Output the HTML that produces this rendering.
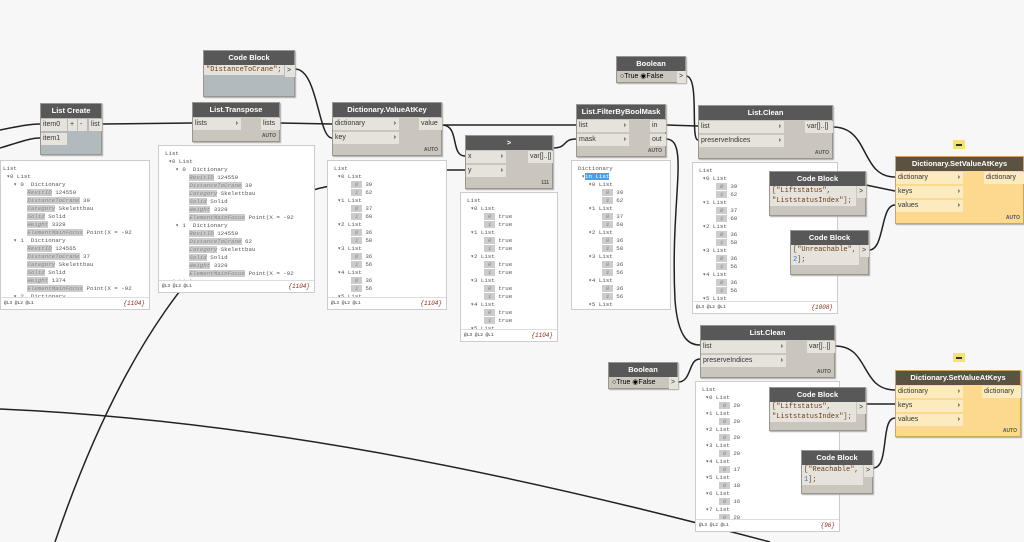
<!DOCTYPE html>
<html><head><meta charset="utf-8"><style>
*{box-sizing:border-box;margin:0;padding:0}
body{width:1024px;height:542px;background:#f7f7f7;position:relative;overflow:hidden;font-family:"Liberation Sans",sans-serif}
.n{position:absolute;background:#cbc6bd;border:1px solid #9a968f;box-shadow:1px 1px 1px #aaa}
.n.g{background:#b2babd}
.n.y{background:#fcd98e;border-color:#c9a760}
.h{background:#585858;color:#fff;font-weight:bold;font-size:7.5px;text-align:center;height:14px;line-height:14px;white-space:nowrap}
.n.y .h{background:#5c5242}
.p{position:absolute;font-size:7px;color:#333;background:#e6e3dc;height:12px;line-height:12px;padding-left:2px;white-space:nowrap}
.n.y .p{background:#fdebc0}
.a{position:absolute;font-size:5px;color:#555;font-weight:bold;right:3px;bottom:2px}
.cb{position:absolute;font-family:"Liberation Mono",monospace;font-size:7px;color:#6b3d17;background:#e6e3dc;line-height:10px;padding-left:2px;white-space:nowrap;overflow:hidden}
.pv{position:absolute;background:#fff;border:1px solid #ccc;font-family:"Liberation Mono",monospace;font-size:5.8px;color:#555;line-height:8px;overflow:hidden}
.pv .in{position:absolute;left:6px;top:4px;white-space:pre}
.pv .ft{position:absolute;left:0;right:0;bottom:0;height:12px;border-top:1px solid #ddd;background:#fff;font-size:4.5px;line-height:12px;padding-left:3px;color:#333}
.pv .ft i{position:absolute;right:4px;color:#8a2a1a;font-size:6px}
.k{background:#ccc;color:#888;font-style:italic}
.tag{position:absolute;width:12px;height:9px;background:#f6e07a}
.tag:after{content:"";position:absolute;left:3px;top:4px;width:6px;height:1.5px;background:#333}
svg{position:absolute;left:0;top:0}
</style></head><body>
<svg width="1024" height="542" fill="none" stroke="#222" stroke-width="1.5">
<path d="M0,409 C250,420 500,470 770,542"/>
<path d="M55,542 C110,380 200,210 330,186 L447,170 465,170"/>
<path d="M0,130 C20,126 30,124 40,124"/>
<path d="M0,148 C20,142 30,138 40,138"/>
<path d="M102,124 L192,123"/>
<path d="M280,123 L332,124"/>
<path d="M295,69 C318,69 318,138 332,138"/>
<path d="M442,125 L576,125"/>
<path d="M442,125 C460,125 450,156 465,156"/>
<path d="M553,148 C568,148 562,139 576,139"/>
<path d="M666,125 L698,126"/>
<path d="M666,139 C690,139 670,200 675,300 C678,340 690,345 700,345"/>
<path d="M686,76 C700,76 690,140 698,140"/>
<path d="M833,127 C870,127 860,177 895,177"/>
<path d="M866,185 L895,191"/>
<path d="M869,250 C885,250 880,205 895,205"/>
<path d="M835,346 C870,346 860,390 895,390"/>
<path d="M866,404 L895,404"/>
<path d="M873,468 C890,468 880,418 895,418"/>
<path d="M678,382 C692,382 688,359 700,359"/>
</svg>

<div class="pv" style="left:0;top:160px;width:150px;height:150px"><div class="in" style="left:2px">List
 ▾0 List
   ▾ 0  Dictionary
       <span class="k">RevitID</span> 124559
       <span class="k">DistanceToCrane</span> 39
       <span class="k">Category</span> Skelettbau
       <span class="k">Solid</span> Solid
       <span class="k">Weight</span> 3329
       <span class="k">ElementMainFocus</span> Point(X = -92
   ▾ 1  Dictionary
       <span class="k">RevitID</span> 124565
       <span class="k">DistanceToCrane</span> 37
       <span class="k">Category</span> Skelettbau
       <span class="k">Solid</span> Solid
       <span class="k">Weight</span> 1374
       <span class="k">ElementMainFocus</span> Point(X = -92
   ▾ 2  Dictionary</div><div class="ft">@L3 @L2 @L1<i>{1104}</i></div></div>
<div class="pv" style="left:158px;top:145px;width:157px;height:148px"><div class="in">List
 ▾0 List
   ▾ 0  Dictionary
       <span class="k">RevitID</span> 124559
       <span class="k">DistanceToCrane</span> 39
       <span class="k">Category</span> Skelettbau
       <span class="k">Solid</span> Solid
       <span class="k">Weight</span> 3329
       <span class="k">ElementMainFocus</span> Point(X = -92
   ▾ 1  Dictionary
       <span class="k">RevitID</span> 124559
       <span class="k">DistanceToCrane</span> 62
       <span class="k">Category</span> Skelettbau
       <span class="k">Solid</span> Solid
       <span class="k">Weight</span> 3329
       <span class="k">ElementMainFocus</span> Point(X = -92
 ▾1 List</div><div class="ft">@L3 @L2 @L1<i>{1104}</i></div></div>
<div class="pv" style="left:327px;top:160px;width:120px;height:150px"><div class="in">List
 ▾0 List
     <span class="k"> 0 </span> 39
     <span class="k"> 1 </span> 62
 ▾1 List
     <span class="k"> 0 </span> 37
     <span class="k"> 1 </span> 60
 ▾2 List
     <span class="k"> 0 </span> 36
     <span class="k"> 1 </span> 58
 ▾3 List
     <span class="k"> 0 </span> 36
     <span class="k"> 1 </span> 56
 ▾4 List
     <span class="k"> 0 </span> 36
     <span class="k"> 1 </span> 56
 ▾5 List</div><div class="ft">@L3 @L2 @L1<i>{1104}</i></div></div>
<div class="pv" style="left:460px;top:192px;width:98px;height:150px"><div class="in">List
 ▾0 List
     <span class="k"> 0 </span> true
     <span class="k"> 1 </span> true
 ▾1 List
     <span class="k"> 0 </span> true
     <span class="k"> 1 </span> true
 ▾2 List
     <span class="k"> 0 </span> true
     <span class="k"> 1 </span> true
 ▾3 List
     <span class="k"> 0 </span> true
     <span class="k"> 1 </span> true
 ▾4 List
     <span class="k"> 0 </span> true
     <span class="k"> 1 </span> true
 ▾5 List</div><div class="ft">@L3 @L2 @L1<i>{1104}</i></div></div>
<div class="pv" style="left:571px;top:160px;width:100px;height:150px"><div class="in">Dictionary
 ▾<span style="background:#4aa0e6;color:#fff">in List</span>
   ▾0 List
       <span class="k"> 0 </span> 39
       <span class="k"> 1 </span> 62
   ▾1 List
       <span class="k"> 0 </span> 37
       <span class="k"> 1 </span> 60
   ▾2 List
       <span class="k"> 0 </span> 36
       <span class="k"> 1 </span> 58
   ▾3 List
       <span class="k"> 0 </span> 36
       <span class="k"> 1 </span> 56
   ▾4 List
       <span class="k"> 0 </span> 36
       <span class="k"> 1 </span> 56
   ▾5 List
       <span class="k"> 0 </span> 36</div></div>
<div class="pv" style="left:692px;top:162px;width:146px;height:152px"><div class="in">List
 ▾0 List
     <span class="k"> 0 </span> 39
     <span class="k"> 1 </span> 62
 ▾1 List
     <span class="k"> 0 </span> 37
     <span class="k"> 1 </span> 60
 ▾2 List
     <span class="k"> 0 </span> 36
     <span class="k"> 1 </span> 58
 ▾3 List
     <span class="k"> 0 </span> 36
     <span class="k"> 1 </span> 56
 ▾4 List
     <span class="k"> 0 </span> 36
     <span class="k"> 1 </span> 56
 ▾5 List</div><div class="ft">@L3 @L2 @L1<i>{1008}</i></div></div>
<div class="pv" style="left:695px;top:381px;width:145px;height:151px"><div class="in">List
 ▾0 List
     <span class="k"> 0 </span> 20
 ▾1 List
     <span class="k"> 0 </span> 20
 ▾2 List
     <span class="k"> 0 </span> 20
 ▾3 List
     <span class="k"> 0 </span> 20
 ▾4 List
     <span class="k"> 0 </span> 17
 ▾5 List
     <span class="k"> 0 </span> 18
 ▾6 List
     <span class="k"> 0 </span> 16
 ▾7 List
     <span class="k"> 0 </span> 20</div><div class="ft">@L3 @L2 @L1<i>{96}</i></div></div>

<div class="n g" style="left:203px;top:50px;width:92px;height:47px"><div class="h">Code Block</div><div class="cb" style="left:0;top:14px;width:80px">"DistanceToCrane";</div><div class="p" style="left:81px;top:14px;width:10px">&gt;</div></div>

<div class="n g" style="left:40px;top:103px;width:62px;height:52px"><div class="h">List Create</div><div class="p" style="left:0;top:15px;width:26px">item0</div><div class="p" style="left:27px;top:15px;width:9px">+</div><div class="p" style="left:37px;top:15px;width:9px">-</div><div class="p" style="left:48px;top:15px;width:13px">list</div><div class="p" style="left:0;top:29px;width:26px">item1</div></div>

<div class="n" style="left:192px;top:102px;width:88px;height:40px"><div class="h">List.Transpose</div><div class="p" style="left:0;top:15px;width:48px">lists<b style="position:absolute;right:3px">›</b></div><div class="p" style="left:68px;top:15px;width:19px">lists</div><div class="a">AUTO</div></div>

<div class="n" style="left:332px;top:102px;width:110px;height:54px"><div class="h">Dictionary.ValueAtKey</div><div class="p" style="left:0;top:15px;width:66px">dictionary<b style="position:absolute;right:3px">›</b></div><div class="p" style="left:86px;top:15px;width:23px">value</div><div class="p" style="left:0;top:29px;width:66px">key<b style="position:absolute;right:3px">›</b></div><div class="a">AUTO</div></div>

<div class="n" style="left:465px;top:135px;width:88px;height:54px"><div class="h">&gt;</div><div class="p" style="left:0;top:15px;width:40px">x<b style="position:absolute;right:3px">›</b></div><div class="p" style="left:62px;top:15px;width:25px">var[]..[]</div><div class="p" style="left:0;top:29px;width:40px">y<b style="position:absolute;right:3px">›</b></div><div class="a">111</div></div>

<div class="n" style="left:576px;top:104px;width:90px;height:53px"><div class="h">List.FilterByBoolMask</div><div class="p" style="left:0;top:15px;width:52px">list<b style="position:absolute;right:3px">›</b></div><div class="p" style="left:73px;top:15px;width:16px">in</div><div class="p" style="left:0;top:29px;width:52px">mask<b style="position:absolute;right:3px">›</b></div><div class="p" style="left:73px;top:29px;width:16px">out</div><div class="a">AUTO</div></div>

<div class="n" style="left:616px;top:56px;width:70px;height:27px"><div class="h">Boolean</div><div style="position:absolute;left:3px;top:15px;font-size:7px">○True ◉False</div><div class="p" style="left:60px;top:14px;width:9px">&gt;</div></div>

<div class="n" style="left:698px;top:105px;width:135px;height:54px"><div class="h">List.Clean</div><div class="p" style="left:0;top:15px;width:85px">list<b style="position:absolute;right:3px">›</b></div><div class="p" style="left:106px;top:15px;width:28px">var[]..[]</div><div class="p" style="left:0;top:29px;width:85px">preserveIndices<b style="position:absolute;right:3px">›</b></div><div class="a">AUTO</div></div>

<div class="n" style="left:769px;top:171px;width:97px;height:45px"><div class="h">Code Block</div><div class="cb" style="left:0;top:14px;width:86px">["Liftstatus",<br>"ListstatusIndex"];</div><div class="p" style="left:87px;top:14px;width:9px">&gt;</div></div>

<div class="n" style="left:790px;top:230px;width:79px;height:45px"><div class="h">Code Block</div><div class="cb" style="left:0;top:14px;width:68px">["Unreachable",<br><span style="color:#2a7bd4">2</span>];</div><div class="p" style="left:69px;top:14px;width:9px">&gt;</div></div>

<div class="tag" style="left:953px;top:140px"></div>
<div class="n y" style="left:895px;top:156px;width:129px;height:68px"><div class="h">Dictionary.SetValueAtKeys</div><div class="p" style="left:0;top:15px;width:67px">dictionary<b style="position:absolute;right:3px">›</b></div><div class="p" style="left:88px;top:15px;width:40px">dictionary</div><div class="p" style="left:0;top:29px;width:67px">keys<b style="position:absolute;right:3px">›</b></div><div class="p" style="left:0;top:43px;width:67px">values<b style="position:absolute;right:3px">›</b></div><div class="a">AUTO</div></div>

<div class="n" style="left:700px;top:325px;width:135px;height:53px"><div class="h">List.Clean</div><div class="p" style="left:0;top:15px;width:85px">list<b style="position:absolute;right:3px">›</b></div><div class="p" style="left:106px;top:15px;width:28px">var[]..[]</div><div class="p" style="left:0;top:29px;width:85px">preserveIndices<b style="position:absolute;right:3px">›</b></div><div class="a">AUTO</div></div>

<div class="n" style="left:608px;top:362px;width:70px;height:27px"><div class="h">Boolean</div><div style="position:absolute;left:3px;top:15px;font-size:7px">○True ◉False</div><div class="p" style="left:60px;top:14px;width:9px">&gt;</div></div>

<div class="n" style="left:769px;top:387px;width:97px;height:44px"><div class="h">Code Block</div><div class="cb" style="left:0;top:14px;width:86px">["Liftstatus",<br>"ListstatusIndex"];</div><div class="p" style="left:87px;top:14px;width:9px">&gt;</div></div>

<div class="n" style="left:801px;top:450px;width:72px;height:44px"><div class="h">Code Block</div><div class="cb" style="left:0;top:14px;width:61px">["Reachable",<br><span style="color:#2a7bd4">1</span>];</div><div class="p" style="left:62px;top:14px;width:9px">&gt;</div></div>

<div class="tag" style="left:953px;top:353px"></div>
<div class="n y" style="left:895px;top:370px;width:126px;height:67px"><div class="h">Dictionary.SetValueAtKeys</div><div class="p" style="left:0;top:15px;width:67px">dictionary<b style="position:absolute;right:3px">›</b></div><div class="p" style="left:86px;top:15px;width:39px">dictionary</div><div class="p" style="left:0;top:29px;width:67px">keys<b style="position:absolute;right:3px">›</b></div><div class="p" style="left:0;top:43px;width:67px">values<b style="position:absolute;right:3px">›</b></div><div class="a">AUTO</div></div>
</body></html>
